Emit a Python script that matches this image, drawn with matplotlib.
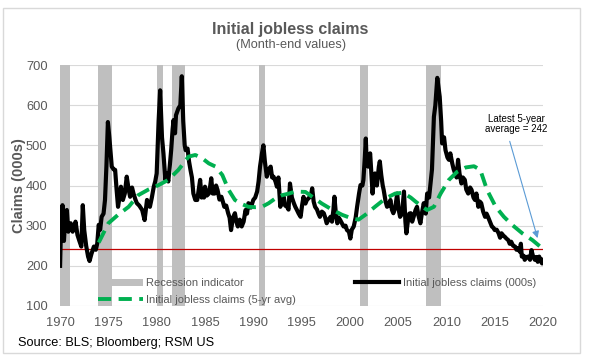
import matplotlib
matplotlib.use("Agg")
import matplotlib.pyplot as plt
import matplotlib.patches as patches

plt.rcParams['font.family'] = ['Liberation Sans', 'DejaVu Sans']

# === DATA ===
claims_year = [
    1970.0, 1970.1, 1970.25, 1970.4, 1970.55, 1970.7, 1970.85, 1971.0, 1971.1, 1971.3,
    1971.45, 1971.6, 1971.8, 1972.0, 1972.2, 1972.35, 1972.5, 1972.7, 1972.9, 1973.05,
    1973.25, 1973.5, 1973.7, 1973.85, 1974.0, 1974.15, 1974.3, 1974.5, 1974.65, 1974.8,
    1974.95, 1975.1, 1975.35, 1975.55, 1975.7, 1975.85, 1976.0, 1976.15, 1976.3, 1976.5,
    1976.7, 1976.9, 1977.1, 1977.25, 1977.45, 1977.6, 1977.8, 1977.95, 1978.2, 1978.5,
    1978.75, 1979.0, 1979.15, 1979.3, 1979.5, 1979.7, 1979.85, 1980.0, 1980.2, 1980.36,
    1980.55, 1980.7, 1980.9, 1981.05, 1981.2, 1981.35, 1981.5, 1981.65, 1981.75, 1981.9,
    1982.0, 1982.25, 1982.45, 1982.6, 1982.75, 1982.9, 1983.0, 1983.2, 1983.35, 1983.5,
    1983.65, 1983.8, 1984.0, 1984.2, 1984.35, 1984.5, 1984.65, 1984.75, 1984.9, 1985.0,
    1985.2, 1985.4, 1985.55, 1985.65, 1985.8, 1986.0, 1986.15, 1986.3, 1986.5, 1986.7,
    1986.85, 1987.0, 1987.2, 1987.4, 1987.55, 1987.7, 1987.9, 1988.1, 1988.25, 1988.4,
    1988.6, 1988.8, 1989.0, 1989.2, 1989.35, 1989.5, 1989.75, 1990.0, 1990.2, 1990.4,
    1990.55, 1990.7, 1990.9, 1991.05, 1991.2, 1991.4, 1991.6, 1991.8, 1991.95, 1992.1,
    1992.3, 1992.45, 1992.6, 1992.8, 1992.95, 1993.15, 1993.3, 1993.5, 1993.65, 1993.8,
    1994.0, 1994.2, 1994.35, 1994.5, 1994.7, 1994.9, 1995.05, 1995.2, 1995.4, 1995.55,
    1995.8, 1996.0, 1996.1, 1996.25, 1996.4, 1996.6, 1996.75, 1996.9, 1997.1, 1997.3,
    1997.45, 1997.6, 1997.8, 1998.0, 1998.15, 1998.3, 1998.4, 1998.55, 1998.7, 1998.85,
    1999.0, 1999.2, 1999.35, 1999.55, 1999.7, 1999.9, 2000.05, 2000.2, 2000.4, 2000.6,
    2000.75, 2000.95, 2001.1, 2001.3, 2001.4, 2001.55, 2001.65, 2001.75, 2001.9, 2002.0,
    2002.1, 2002.25, 2002.35, 2002.5, 2002.6, 2002.8, 2003.0, 2003.1, 2003.25, 2003.4,
    2003.5, 2003.7, 2003.85, 2004.0, 2004.2, 2004.35, 2004.5, 2004.7, 2004.9, 2005.05,
    2005.2, 2005.4, 2005.6, 2005.75, 2005.85, 2006.0, 2006.15, 2006.3, 2006.45, 2006.6,
    2006.8, 2006.95, 2007.1, 2007.3, 2007.45, 2007.65, 2007.85, 2008.0, 2008.2, 2008.35,
    2008.5, 2008.7, 2008.85, 2009.0, 2009.05, 2009.2, 2009.3, 2009.45, 2009.55, 2009.75,
    2009.9, 2010.1, 2010.25, 2010.4, 2010.6, 2010.75, 2010.9, 2011.05, 2011.2, 2011.35,
    2011.55, 2011.7, 2011.9, 2012.05, 2012.25, 2012.45, 2012.6, 2012.8, 2012.95, 2013.1,
    2013.3, 2013.45, 2013.6, 2013.8, 2014.0, 2014.15, 2014.3, 2014.5, 2014.7, 2014.85,
    2015.0, 2015.2, 2015.4, 2015.55, 2015.7, 2015.9, 2016.05, 2016.2, 2016.4, 2016.55,
    2016.7, 2016.9, 2017.1, 2017.25, 2017.4, 2017.6, 2017.7, 2017.8, 2018.0, 2018.1,
    2018.3, 2018.5, 2018.65, 2018.8, 2018.95, 2019.15, 2019.3, 2019.45, 2019.6, 2019.75,
    2019.9, 2020.0,
]
claims_value = [
    200, 300, 351, 262, 330, 339, 285, 300, 306, 285,
    300, 310, 277, 262, 248, 351, 289, 250, 223, 212,
    230, 248, 240, 256, 302, 290, 322, 330, 364, 450,
    558, 520, 447, 440, 439, 390, 347, 370, 397, 364,
    380, 422, 390, 372, 395, 380, 365, 356, 350, 339,
    314, 364, 350, 347, 370, 397, 410, 430, 560, 637,
    520, 480, 414, 430, 410, 447, 488, 540, 563, 530,
    575, 592, 600, 672, 560, 500, 488, 492, 460, 439,
    420, 380, 364, 364, 390, 414, 370, 389, 370, 397,
    375, 380, 400, 418, 380, 380, 400, 389, 365, 372,
    360, 347, 350, 331, 320, 289, 320, 331, 310, 298,
    315, 298, 310, 339, 330, 356, 345, 364, 370, 385,
    410, 447, 480, 500, 460, 422, 440, 447, 420, 422,
    410, 397, 420, 347, 360, 372, 350, 347, 340, 405,
    370, 356, 347, 340, 330, 322, 350, 372, 355, 364,
    370, 380, 393, 360, 347, 340, 330, 322, 335, 331,
    320, 306, 315, 322, 310, 340, 372, 330, 306, 320,
    314, 305, 298, 300, 289, 285, 268, 290, 298, 320,
    347, 380, 401, 400, 414, 470, 517, 450, 447, 470,
    480, 420, 380, 420, 430, 400, 447, 460, 426, 400,
    389, 360, 347, 350, 364, 340, 331, 345, 380, 340,
    322, 330, 385, 310, 281, 310, 330, 331, 310, 322,
    339, 347, 325, 306, 330, 356, 330, 380, 370, 405,
    440, 571, 600, 650, 668, 640, 621, 560, 505, 520,
    488, 470, 464, 480, 455, 440, 430, 420, 464, 430,
    405, 420, 414, 390, 380, 395, 389, 370, 364, 380,
    347, 360, 356, 335, 322, 330, 322, 310, 298, 295,
    289, 290, 281, 270, 281, 275, 272, 268, 264, 255,
    260, 250, 248, 240, 244, 235, 255, 223, 225, 215,
    222, 223, 215, 239, 225, 215, 222, 210, 223, 212,
    206, 215,
]

avg_year = [
    1974.0, 1974.5, 1975.0, 1976.0, 1977.1, 1978.1, 1979.15, 1980.2, 1981.2, 1982.25,
    1982.9, 1983.3, 1984.0, 1984.7, 1985.4, 1986.1, 1986.8, 1987.45, 1988.1, 1988.8,
    1989.5, 1990.2, 1990.9, 1991.6, 1992.3, 1993.0, 1993.7, 1994.35, 1995.4, 1996.1,
    1997.1, 1998.15, 1999.2, 2000.2, 2000.9, 2001.6, 2002.6, 2003.7, 2004.7, 2005.5,
    2006.3, 2006.8, 2007.5, 2008.0, 2008.7, 2009.4, 2010.25, 2011.1, 2012.0, 2012.85,
    2013.5, 2014.2, 2015.1, 2015.95, 2016.8, 2017.85, 2018.9, 2020.0,
]
avg_value = [
    258, 282, 306, 327, 347, 376, 390, 401, 414, 439,
    459, 472, 476, 468, 455, 447, 426, 389, 364, 354,
    347, 346, 347, 356, 368, 376, 380, 385, 384, 372,
    355, 340, 327, 318, 315, 327, 347, 368, 380, 382,
    370, 360, 347, 339, 347, 380, 414, 434, 445, 448,
    439, 389, 347, 322, 302, 281, 264, 242,
]

recession_start = [1970.0, 1973.92, 1980.05, 1981.55, 1990.58, 2001.1, 2007.83]
recession_end = [1971.0, 1975.35, 1980.65, 1982.92, 1991.22, 2001.92, 2009.45]

latest_avg = 242
x_ticks = [1970, 1975, 1980, 1985, 1990, 1995, 2000, 2005, 2010, 2015, 2020]
y_ticks = [100, 200, 300, 400, 500, 600, 700]

GRAY_TXT = '#595959'

fig = plt.figure(figsize=(5.89, 3.6), dpi=100)
ax = fig.add_axes([0.102, 0.15, 0.82, 0.6694])

# recession bars
for i, (s, e) in enumerate(zip(recession_start, recession_end)):
    ax.axvspan(s, e, color='#BFBFBF', lw=0, zorder=1,
               label='Recession indicator' if i == 0 else None)

ax.axhline(latest_avg, color='#C00000', lw=0.9, zorder=2)

ax.plot(claims_year, claims_value, color='black', lw=3.0, zorder=3,
        solid_joinstyle='round', label='Initial jobless claims (000s)')
ax.plot(avg_year, avg_value, color='#00B050', lw=2.8, zorder=4,
        dashes=(3.4, 1.9), label='Initial jobless claims (5-yr avg)')

ax.set_xlim(1970, 2020)
ax.set_ylim(100, 700)
ax.set_xticks(x_ticks)
ax.set_yticks(y_ticks)
ax.grid(axis='y', color='#D9D9D9', lw=0.8, zorder=0)
ax.set_axisbelow(True)
for sp in ax.spines.values():
    sp.set_visible(False)
ax.tick_params(length=0, labelsize=9.3, labelcolor=GRAY_TXT)
ax.tick_params(axis='y', pad=9)
ax.tick_params(axis='x', pad=8)
ax.set_ylabel('Claims (000s)', fontsize=10.5, fontweight='bold', color=GRAY_TXT, labelpad=0)

# legend
h, l = ax.get_legend_handles_labels()
order = [l.index('Recession indicator'), l.index('Initial jobless claims (5-yr avg)'),
         l.index('Initial jobless claims (000s)')]
leg = ax.legend([h[i] for i in order], [l[i] for i in order], ncol=2,
                loc='lower left', bbox_to_anchor=(0.079, 0.004), frameon=False,
                fontsize=8, handlelength=4.0, handletextpad=0.3, columnspacing=5.3,
                labelspacing=0.6, borderpad=0, borderaxespad=0)
for t in leg.get_texts():
    t.set_color(GRAY_TXT)

# annotation
ax.annotate('', xy=(2019.43, 269), xytext=(2016.55, 510),
            arrowprops=dict(arrowstyle='-|>', color='#5B9BD5', lw=0.8,
                            mutation_scale=10, shrinkA=0, shrinkB=0), zorder=5)
ax.text(2017.2, 553, 'Latest 5-year\naverage = 242', fontsize=7, ha='center',
        va='center', color='black', linespacing=1.1, zorder=5)

# titles and source
fig.text(0.493, 0.919, 'Initial jobless claims', ha='center', va='center',
         fontsize=11.5, fontweight='bold', color=GRAY_TXT)
fig.text(0.494, 0.875, '(Month-end values)', ha='center', va='center',
         fontsize=9.2, color=GRAY_TXT)
fig.text(0.031, 0.048, 'Source: BLS; Bloomberg; RSM US', ha='left', va='center',
         fontsize=9.2, color='black')

# outer border
fig.patches.append(patches.Rectangle((3 / 589, 1 - 353 / 360), 577 / 589, 345 / 360,
                                     transform=fig.transFigure, fill=False,
                                     edgecolor='#D9D9D9', lw=1))

fig.savefig('out.png', dpi=100, facecolor='white')
